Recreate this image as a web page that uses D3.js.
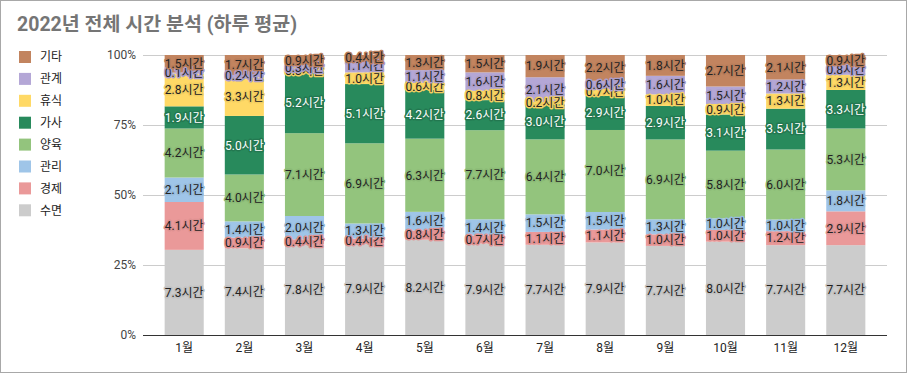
<!DOCTYPE html>
<html><head><meta charset="utf-8">
<script src="https://cdn.jsdelivr.net/npm/d3@7"></script>
<style>
html,body{margin:0;padding:0;background:#fff;}
svg{display:block;font-family:Roboto,"Noto Sans CJK KR",sans-serif;}
</style></head>
<body>
<svg id="chart" width="907" height="373"></svg>
<script>
const months = ["1월","2월","3월","4월","5월","6월","7월","8월","9월","10월","11월","12월"];
const seriesNames = ["수면","경제","관리","양육","가사","휴식","관계","기타"];
const sleep   = [7.3,7.4,7.8,7.9,8.2,7.9,7.7,7.9,7.7,8.0,7.7,7.7];
const economy = [4.1,0.9,0.4,0.4,0.8,0.7,1.1,1.1,1.0,1.0,1.2,2.9];
const manage  = [2.1,1.4,2.0,1.3,1.6,1.4,1.5,1.5,1.3,1.0,1.0,1.8];
const parenting = [4.2,4.0,7.1,6.9,6.3,7.7,6.4,7.0,6.9,5.8,6.0,5.3];
const housework = [1.9,5.0,5.2,5.1,4.2,2.6,3.0,2.9,2.9,3.1,3.5,3.3];
const rest    = [2.8,3.3,0.3,1.0,0.6,0.8,0.2,0.7,1.0,0.9,1.3,1.3];
const relation= [0.1,0.2,0.3,1.1,1.1,1.6,2.1,0.6,1.6,1.5,1.2,0.8];
const other   = [1.5,1.7,0.9,0.4,1.3,1.5,1.9,2.2,1.8,2.7,2.1,0.9];
const yTicks = [0,0.25,0.5,0.75,1];
const colors = ["#cccccc","#ea9999","#9fc5e8","#93c47d","#288a5c","#ffd966","#b4a7d6","#c2845f"];
const labelColors = ["#222","#222","#222","#222","#fff","#222","#222","#222"];

const seriesValues = [sleep,economy,manage,parenting,housework,rest,relation,other];
const rows = months.map((m,i)=>{
  const r = {month:m};
  seriesNames.forEach((s,j)=>r[s]=seriesValues[j][i]);
  return r;
});

(function(){
const svg = d3.select("#chart");
const W=907,H=373;
svg.append("rect").attr("x",0.5).attr("y",0.5).attr("width",W-1).attr("height",H-1)
  .attr("fill","#fff").attr("stroke","#a8a8a8");

svg.append("text").attr("x",17).attr("y",31).attr("font-size",19.5).attr("font-weight","bold")
  .attr("fill","#757575").text("2022년 전체 시간 분석 (하루 평균)");

const pLeft=143,pRight=887,pTop=55,pBottom=335;
const x = d3.scaleBand().domain(months).range([pLeft,pRight]).paddingInner(0.35).paddingOuter(0.36);
const y = d3.scaleLinear().domain([0,1]).range([pBottom,pTop]);

svg.append("g").selectAll("line").data(yTicks.filter(t=>t>0)).join("line")
  .attr("x1",pLeft).attr("x2",pRight).attr("y1",d=>y(d)+0.5).attr("y2",d=>y(d)+0.5)
  .attr("stroke","#cccccc");

const yAxis = svg.append("g").attr("transform",`translate(${pLeft},0)`)
  .call(d3.axisLeft(y).tickValues(yTicks).tickFormat(d3.format(".0%")).tickSize(0).tickPadding(7));
yAxis.select(".domain").remove();
yAxis.selectAll("text").attr("font-size",12).attr("fill","#444").attr("font-family","Roboto,sans-serif");

const stack = d3.stack().keys(seriesNames).offset(d3.stackOffsetExpand);
const stacked = stack(rows);

const g = svg.append("g");
stacked.forEach((layer,li)=>{
  g.append("g").selectAll("rect").data(layer).join("rect")
    .attr("x",d=>x(d.data.month))
    .attr("width",x.bandwidth())
    .attr("y",d=>y(d[1]))
    .attr("height",d=>Math.max(0,y(d[0])-y(d[1])))
    .attr("fill",colors[li]);
});

svg.append("line").attr("x1",pLeft).attr("x2",pRight).attr("y1",pBottom+0.5).attr("y2",pBottom+0.5)
  .attr("stroke","#333");

const lg = svg.append("g");
stacked.forEach((layer,li)=>{
  const key = layer.key;
  lg.append("g").selectAll("text").data(layer).join("text")
    .attr("x",d=>x(d.data.month)+x.bandwidth()/2)
    .attr("y",d=>(y(d[0])+y(d[1]))/2)
    .attr("dy","0.36em")
    .attr("text-anchor","middle")
    .attr("font-size",12)
    .attr("fill",labelColors[li])
    .attr("stroke",d3.color(colors[li]).darker(li===4?0.4:0.15))
    .attr("stroke-width",3)
    .attr("stroke-linejoin","round")
    .attr("paint-order","stroke")
    .text(d=>d.data[key].toFixed(1)+"시간");
});

const xAxis = svg.append("g").attr("transform",`translate(0,${pBottom})`)
  .call(d3.axisBottom(x).tickSize(0).tickPadding(8));
xAxis.select(".domain").remove();
xAxis.selectAll("text").attr("font-size",12).attr("fill","#222").attr("font-family","Roboto,'Noto Sans CJK KR',sans-serif");

const legendOrder = seriesNames.slice().reverse();
const leg = svg.append("g");
legendOrder.forEach((s,i)=>{
  const ci = seriesNames.indexOf(s);
  const cy = 57 + i*21.9;
  leg.append("rect").attr("x",19).attr("y",cy-6).attr("width",12).attr("height",12).attr("fill",colors[ci]);
  leg.append("text").attr("x",40).attr("y",cy).attr("dy","0.36em").attr("font-size",12)
    .attr("fill","#222").text(s);
});
})();
</script>
</body></html>
